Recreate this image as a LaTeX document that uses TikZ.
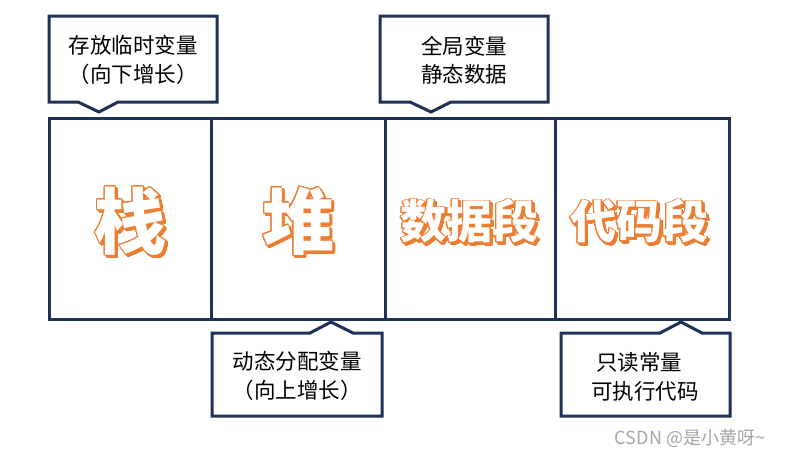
\documentclass[tikz,border=0pt]{standalone}
\usepackage{fontspec}
\usepackage{contour}
\newfontfamily\cjk{Noto Sans CJK SC}
\definecolor{navy}{HTML}{1F3157}
\definecolor{orng}{HTML}{ED7D31}
\definecolor{wm}{HTML}{A6A6A6}
\usetikzlibrary{calc}
\contournumber{24}
\tikzset{
  seg/.style={draw=navy, line width=3pt, minimum height=201pt, inner sep=0pt, anchor=north west},
  callout/.style={draw=navy, line width=3pt, fill=white, line join=miter},
  note/.style={font=\cjk\fontsize{21.5}{28.5}\selectfont, align=center, text=black, inner sep=0pt},
  bigtxt/.style={inner sep=0pt},
}
\newcommand\hollow[1]{\contourlength{0.8pt}\contour{orng}{\textcolor{white}{#1}}}
\newcommand\shade[1]{\contourlength{0.8pt}\contour{orng}{\textcolor{orng}{#1}}}
\begin{document}
\begin{tikzpicture}[x=1pt,y=-1pt]
\useasboundingbox[fill=white] (0,0) rectangle (785,456);
% segments
\node[seg, minimum width=162pt] (s1) at (48,117) {};
\node[seg, minimum width=174pt] (s2) at (210,117) {};
\node[seg, minimum width=170pt] (s3) at (384,117) {};
\node[seg, minimum width=174pt] (s4) at (554,117) {};
% big labels
\foreach \n/\t/\sz/\dx in {s1/栈/72/0, s2/堆/72/-0.5, s3/数据段/46/-1, s4/代码段/46/-3}{
  \node[bigtxt, font=\cjk\bfseries\fontsize{\sz}{\sz}\selectfont] at ($(\n.center)+(\dx+2.2,2.5+2.2)$) {\shade{\t}};
  \node[bigtxt, font=\cjk\bfseries\fontsize{\sz}{\sz}\selectfont] (l\n) at ($(\n.center)+(\dx,2.5)$) {\hollow{\t}};
}
% callouts
\draw[callout] (49,16) -- (217,16) -- (217,102) -- (118,102) -- (99,112) -- (78,102) -- (49,102) -- cycle;
\node[note] (n1) at (133,60) {存放临时变量\\（向下增长）};
\draw[callout] (380,16) -- (548,16) -- (548,102) -- (451,102) -- (431,112) -- (410,102) -- (380,102) -- cycle;
\node[note] (n2) at (464,60) {全局变量\\静态数据};
\draw[callout] (212,333) -- (310,333) -- (331,322) -- (353,333) -- (382,333) -- (382,416) -- (212,416) -- cycle;
\node[note] (n3) at (297,376) {动态分配变量\\（向上增长）};
\draw[callout] (561,333) -- (660,333) -- (681,322) -- (702,333) -- (730,333) -- (730,416) -- (561,416) -- cycle;
\node[note] (n4a) at (639,362) {只读常量};
\node[note] (n4b) at (645,391) {可执行代码};
% watermark
\node[font=\cjk\fontsize{18}{18}\selectfont, text=wm, inner sep=0pt] (wmk) at (690,438) {CSDN @是小黄呀\textasciitilde};
\end{tikzpicture}
\end{document}
